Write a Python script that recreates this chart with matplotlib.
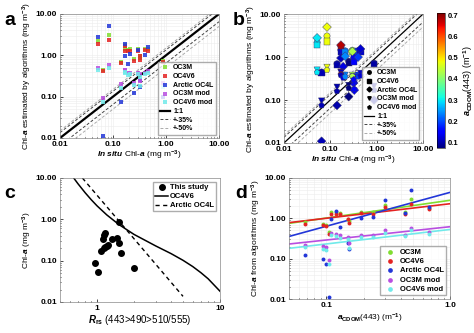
import numpy as np
import matplotlib
matplotlib.use("Agg")
import matplotlib.pyplot as plt
from matplotlib.ticker import FixedLocator, FixedFormatter, NullFormatter
from matplotlib.lines import Line2D

plt.rcParams['font.family'] = ['Liberation Sans', 'DejaVu Sans']
plt.rcParams['font.weight'] = 'bold'
plt.rcParams['mathtext.fontset'] = 'custom'
plt.rcParams['mathtext.rm'] = 'Liberation Sans:bold'
plt.rcParams['mathtext.it'] = 'Liberation Sans:italic:bold'
plt.rcParams['mathtext.bf'] = 'Liberation Sans:bold'

# station data
insitu = [0.052, 0.065, 0.085, 0.14, 0.17, 0.17, 0.19, 0.21, 0.25, 0.30, 0.32, 0.33, 0.40, 0.45, 0.88]
acdom = [0.30, 0.105, 0.48, 0.10, 0.68, 0.11, 0.13, 0.24, 0.067, 0.43, 0.15, 0.154, 0.19, 0.12, 0.095]
oc3m = [2.2, 0.45, 3.1, 0.70, 1.8, 1.45, 1.35, 1.40, 0.80, 1.45, 0.95, 0.85, 1.40, 1.40, 0.72]
oc4v6 = [1.9, 0.42, 2.3, 0.66, 1.7, 1.30, 1.30, 1.30, 0.72, 1.30, 0.98, 0.76, 1.35, 1.30, 0.70]
arctic = [2.8, 0.011, 5.0, 0.075, 1.9, 0.95, 0.60, 1.05, 0.12, 1.35, 0.25, 0.17, 1.0, 1.55, 0.10]
oc3m_mod = [0.50, 0.095, 0.58, 0.20, 0.45, 0.44, 0.38, 0.38, 0.22, 0.38, 0.35, 0.24, 0.38, 0.42, 0.21]
oc4v6_mod = [0.44, 0.075, 0.50, 0.16, 0.40, 0.38, 0.33, 0.35, 0.19, 0.36, 0.30, 0.18, 0.35, 0.37, 0.17]

alg_names = ["OC3M", "OC4V6", "Arctic OC4L", "OC3M mod", "OC4V6 mod"]
alg_colors = ["#80dd30", "#e42222", "#2236d8", "#b84ee0", "#70eaea"]
alg_markers_b = ["o", "s", "D", "v", "p"]

# panel c: band ratio vs chl
ratio_c = [0.96, 1.02, 1.07, 1.12, 1.14, 1.16, 1.13, 1.17, 1.20, 1.23, 1.32, 1.44, 1.50, 1.51, 1.58, 2.01]
chl_c = [0.09, 0.052, 0.17, 0.34, 0.42, 0.48, 0.20, 0.21, 0.23, 0.24, 0.33, 0.35, 0.27, 0.88, 0.15, 0.066]
oc4v6_r = [0.65, 0.7, 0.8, 0.9, 1.0, 1.2, 1.5, 2.0, 3.0, 4.0, 5.0, 6.0, 7.0, 8.0, 10.0]
oc4v6_chl = [9.77, 7.25, 4.41, 2.95, 2.12, 1.28, 0.754, 0.431, 0.227, 0.148, 0.102, 0.072, 0.051, 0.0365, 0.0182]
arctic_r = [0.76, 5.0]
arctic_chl = [10.0, 0.0137]

# panel d: power-law fits  y = a * x^b
fit_a = [2.8, 2.3, 4.4, 0.62, 0.53]
fit_b = [0.44, 0.36, 0.84, 0.33, 0.36]
fit_x = [0.05, 1.0]

ytk = [0.01, 0.1, 1, 10]
ytl = ["0.01", "0.10", "1.00", "10.00"]
FS = 6

fig = plt.figure(figsize=(4.74, 3.33), dpi=100)


def style(ax, grid=True):
    ax.set_yscale("log")
    ax.set_xscale("log")
    ax.tick_params(axis="both", which="both", direction="in", labelsize=FS,
                   length=2, width=0.5, pad=2)
    ax.tick_params(which="minor", length=1)
    for s in ax.spines.values():
        s.set_linewidth(0.5)
        s.set_color("#888888")
    if grid:
        ax.grid(True, which="both", color="#ececec", lw=0.4)
        ax.set_axisbelow(True)


def one_to_one(ax, lw1):
    xx = np.array([0.01, 10])
    ax.plot(xx, xx, color="k", lw=lw1, label="1:1")
    ax.plot(xx, xx * 1.35, color="#444444", ls="--", lw=0.7, dashes=(3, 2), label="+-35%")
    ax.plot(xx, xx * 0.65, color="#444444", ls="--", lw=0.7, dashes=(3, 2))
    ax.plot(xx, xx * 1.5, color="#aaaaaa", ls="--", lw=0.7, dashes=(3, 2), label="+-50%")
    ax.plot(xx, xx * 0.5, color="#aaaaaa", ls="--", lw=0.7, dashes=(3, 2))


# ---- panel a
axa = fig.add_axes([0.1266, 0.5856, 0.3354, 0.3724])
style(axa)
for vals, name, c in zip([oc3m, oc4v6, arctic, oc3m_mod, oc4v6_mod], alg_names, alg_colors):
    axa.scatter(insitu, vals, s=11, marker="s", color=c, alpha=0.85, lw=0, label=name, zorder=3)
one_to_one(axa, 1.6)
axa.set_xlim(0.01, 10)
axa.set_ylim(0.01, 10)
for a in (axa.xaxis, axa.yaxis):
    a.set_major_locator(FixedLocator(ytk))
    a.set_major_formatter(FixedFormatter(ytl))
    a.set_minor_formatter(NullFormatter())
axa.set_xlabel("$\\mathit{In\\ situ}$ Chl-$\\mathit{a}$ (mg m$^{-3}$)", fontsize=FS, labelpad=1)
axa.set_ylabel("Chl-$\\mathit{a}$ estimated by algorithms (mg m$^{-3}$)", fontsize=FS, labelpad=1)
axa.legend(loc="lower right", fontsize=5, frameon=True, handlelength=1.5, handletextpad=0.4,
           borderpad=0.3, labelspacing=0.25, markerscale=1.0, fancybox=False, edgecolor="#999999")

# ---- panel b
axb = fig.add_axes([0.599, 0.5706, 0.2932, 0.387])
style(axb)
cmap = plt.get_cmap("jet")
norm = matplotlib.colors.Normalize(vmin=0.075, vmax=0.71)
for vals, name, m in zip([oc3m, oc4v6, arctic, oc3m_mod, oc4v6_mod], alg_names, alg_markers_b):
    sc = axb.scatter(insitu, vals, s=20, marker=m, c=acdom, cmap=cmap, norm=norm,
                     edgecolors="#333366", linewidths=0.3, zorder=3)
one_to_one(axb, 0.9)
axb.set_xlim(0.01, 10)
axb.set_ylim(0.01, 10)
for a in (axb.xaxis, axb.yaxis):
    a.set_major_locator(FixedLocator(ytk))
    a.set_major_formatter(FixedFormatter(ytl))
    a.set_minor_formatter(NullFormatter())
axb.set_xlabel("$\\mathit{In\\ situ}$ Chl-$\\mathit{a}$ (mg m$^{-3}$)", fontsize=FS, labelpad=1)
axb.set_ylabel("Chl-$\\mathit{a}$ estimated by algorithms (mg m$^{-3}$)", fontsize=FS, labelpad=1)
hb = [Line2D([], [], ls="", marker=m, color="k", ms=2.5) for m in alg_markers_b]
hb += [Line2D([], [], color="k", lw=0.9),
       Line2D([], [], color="#444444", ls="--", lw=0.7, dashes=(3, 2)),
       Line2D([], [], color="#aaaaaa", ls="--", lw=0.7, dashes=(3, 2))]
axb.legend(hb, alg_names + ["1:1", "+-35%", "+-50%"], loc="lower right", fontsize=5,
           handlelength=1.5, handletextpad=0.4, borderpad=0.3, labelspacing=0.25,
           fancybox=False, edgecolor="#999999")
cax = fig.add_axes([0.922, 0.5556, 0.0169, 0.405])
cb = fig.colorbar(sc, cax=cax, ticks=[0.1, 0.2, 0.3, 0.4, 0.5, 0.6, 0.7])
cb.ax.tick_params(labelsize=5.5, length=0, pad=2)
cb.outline.set_linewidth(0.4)
cb.set_label("$\\mathit{a}_{\\mathrm{CDOM}}$(443) (m$^{-1}$)", fontsize=6.5, labelpad=2)

# ---- panel c
axc = fig.add_axes([0.1266, 0.0931, 0.3376, 0.3724])
style(axc, grid=False)
axc.scatter(ratio_c, chl_c, s=16, color="k", zorder=3, label="This study")
axc.plot(oc4v6_r, oc4v6_chl, color="k", lw=1.1, label="OC4V6")
axc.plot(arctic_r, arctic_chl, color="k", lw=1.0, ls="--", dashes=(3, 2.5), label="Arctic OC4L")
axc.set_xlim(0.5, 10)
axc.set_ylim(0.01, 10)
axc.yaxis.set_major_locator(FixedLocator(ytk))
axc.yaxis.set_major_formatter(FixedFormatter(ytl))
axc.yaxis.set_minor_formatter(NullFormatter())
axc.xaxis.set_major_locator(FixedLocator([1, 10]))
axc.xaxis.set_major_formatter(FixedFormatter(["1", "10"]))
axc.xaxis.set_minor_formatter(NullFormatter())
axc.set_xlabel("$\\mathit{R}_{\\mathrm{rs}}$ (443>490>510/555)", fontsize=7, labelpad=1)
axc.set_ylabel("Chl-$\\mathit{a}$ (mg m$^{-3}$)", fontsize=FS, labelpad=1)
axc.legend(loc="upper right", fontsize=5.5, handlelength=1.6, handletextpad=0.3,
           borderpad=0.3, labelspacing=0.2, fancybox=False, edgecolor="#999999")

# ---- panel d
axd = fig.add_axes([0.6097, 0.1021, 0.3397, 0.3634])
style(axd)
xf = np.array(fit_x)
for vals, name, c, fa, fb in zip([oc3m, oc4v6, arctic, oc3m_mod, oc4v6_mod], alg_names,
                                 alg_colors, fit_a, fit_b):
    axd.scatter(acdom, vals, s=8, color=c, lw=0, zorder=3, label=name)
    axd.plot(xf, fa * xf ** fb, color=c, lw=1.2, zorder=2)
axd.set_xlim(0.05, 1.0)
axd.set_ylim(0.01, 10)
axd.yaxis.set_major_locator(FixedLocator(ytk))
axd.yaxis.set_major_formatter(FixedFormatter(ytl))
axd.yaxis.set_minor_formatter(NullFormatter())
axd.xaxis.set_major_locator(FixedLocator([0.1, 1.0]))
axd.xaxis.set_major_formatter(FixedFormatter(["0.1", "1.0"]))
axd.xaxis.set_minor_formatter(NullFormatter())
axd.set_xlabel("$\\mathit{a}_{\\mathrm{CDOM}}$(443) (m$^{-1}$)", fontsize=FS, labelpad=2)
axd.set_ylabel("Chl-$\\mathit{a}$ from algorithms (mg m$^{-3}$)", fontsize=FS, labelpad=1)
axd.legend(loc="lower right", fontsize=5.5, handletextpad=0.3, borderpad=0.3,
           labelspacing=0.25, markerscale=1.2, fancybox=False, edgecolor="#999999")

# panel letters
for x, y, t in [(0.010, 0.965, "a"), (0.490, 0.965, "b"), (0.010, 0.445, "c"), (0.496, 0.445, "d")]:
    fig.text(x, y, t, fontsize=14, fontweight="bold", va="top", ha="left")

fig.savefig("out.png", dpi=100)
